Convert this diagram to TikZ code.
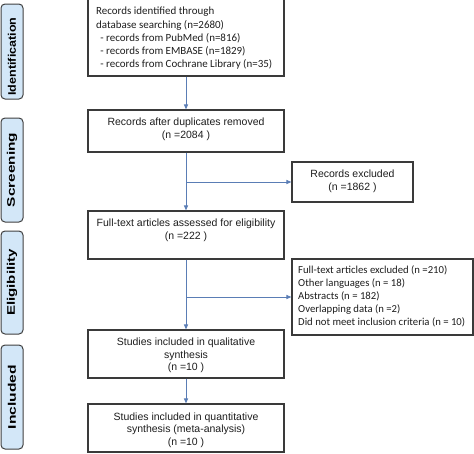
\documentclass[tikz,border=0pt]{standalone}
\usepackage{fontspec}
\setmainfont{Liberation Sans}
\newfontfamily\calfont{Carlito}
\usetikzlibrary{arrows.meta}
\definecolor{boxgray}{HTML}{3A3A3A}
\definecolor{stagegray}{HTML}{404040}
\definecolor{stageblue}{HTML}{D3E7F8}
\definecolor{arrowblue}{HTML}{5A7DB5}
\definecolor{txtcol}{HTML}{1E1E1E}
\begin{document}
\begin{tikzpicture}[x=1pt,y=-1pt,
  box/.style={draw=boxgray, line width=1.1pt, inner sep=0pt, fill=white},
  stage/.style={draw=stagegray, fill=stageblue, rounded corners=4pt, line width=1pt, inner sep=0pt,
                rotate=90, font=\fontsize{11}{13}\selectfont\bfseries, text=black},
  txt/.style={font=\fontsize{10.5}{12.6}\selectfont, align=center, inner sep=0pt, text=txtcol},
  ctxt/.style={font=\calfont\fontsize{10.6}{12.7}\selectfont, inner sep=0pt, anchor=west, text=txtcol},
  arr/.style={draw=arrowblue, line width=1pt, -{Triangle[length=5pt,width=4pt]}}]
\useasboundingbox (0,0) rectangle (474,453);

% stage labels
\node[stage, minimum width=95pt, minimum height=22pt] (s1) at (12,51.5) {\scalebox{1.14}[1]{Identification\hspace{8.8pt}}};
\node[stage, minimum width=104pt, minimum height=22pt] (s2) at (12,170) {\scalebox{1.40}[1]{Screening}};
\node[stage, minimum width=103pt, minimum height=22pt] (s3) at (12,282.5) {\scalebox{1.37}[1]{Eligibility}};
\node[stage, minimum width=104pt, minimum height=22pt] (s4) at (12,397) {\scalebox{1.42}[1]{Included}};

% boxes
\node[box, minimum width=196pt, minimum height=77pt] (b1) at (186,37.5) {};
\node[box, minimum width=196pt, minimum height=42pt] (b2) at (186,131) {};
\node[box, minimum width=121pt, minimum height=40pt] (e1) at (352.5,182) {};
\node[box, minimum width=196pt, minimum height=48pt] (b3) at (186,235) {};
\node[box, minimum width=181pt, minimum height=76pt] (e2) at (382.5,297) {};
\node[box, minimum width=196pt, minimum height=48pt] (b4) at (186,354) {};
\node[box, minimum width=196pt, minimum height=48pt] (b5) at (186,428) {};

% texts
\node[ctxt] (t1) at (96,38.5) {\resizebox{176pt}{!}{\begin{tabular}{@{}l@{}}Records identified through\\database searching (n=2680)\\
  \hspace*{4pt}- records from PubMed (n=816)\\
  \hspace*{4pt}- records from EMBASE (n=1829)\\
  \hspace*{4pt}- records from Cochrane Library (n=35)\end{tabular}}};
\node[txt] (t2) at (186,129) {Records after duplicates removed\\(n =2084 )};
\node[txt] (t3) at (352.5,181.5) {Records excluded\\(n =1862 )};
\node[txt] (t4) at (186,230.5) {Full-text articles assessed for eligibility\\(n =222 )};
\node[ctxt] (t5) at (298,297) {\resizebox{167pt}{!}{\begin{tabular}{@{}l@{}}Full-text articles excluded (n =210)\\Other languages (n = 18)\\Abstracts (n = 182)\\Overlapping data (n =2)\\Did not meet inclusion criteria (n = 10)\end{tabular}}};
\node[txt] (t6) at (186,355.5) {Studies included in qualitative\\synthesis\\(n =10 )};
\node[txt] (t7) at (186,430) {Studies included in quantitative\\synthesis (meta-analysis)\\(n =10 )};

% connectors
\draw[arr] (b1.south) -- (b2.north);
\draw[arr] (b2.south) -- (b3.north);
\draw[arr] (b2.south |- e1.west) -- (e1.west);
\draw[arr] (b3.south) -- (b4.north);
\draw[arr] (b3.south |- e2.west) -- (e2.west);
\draw[arr] (b4.south) -- (b5.north);
\end{tikzpicture}
\end{document}
